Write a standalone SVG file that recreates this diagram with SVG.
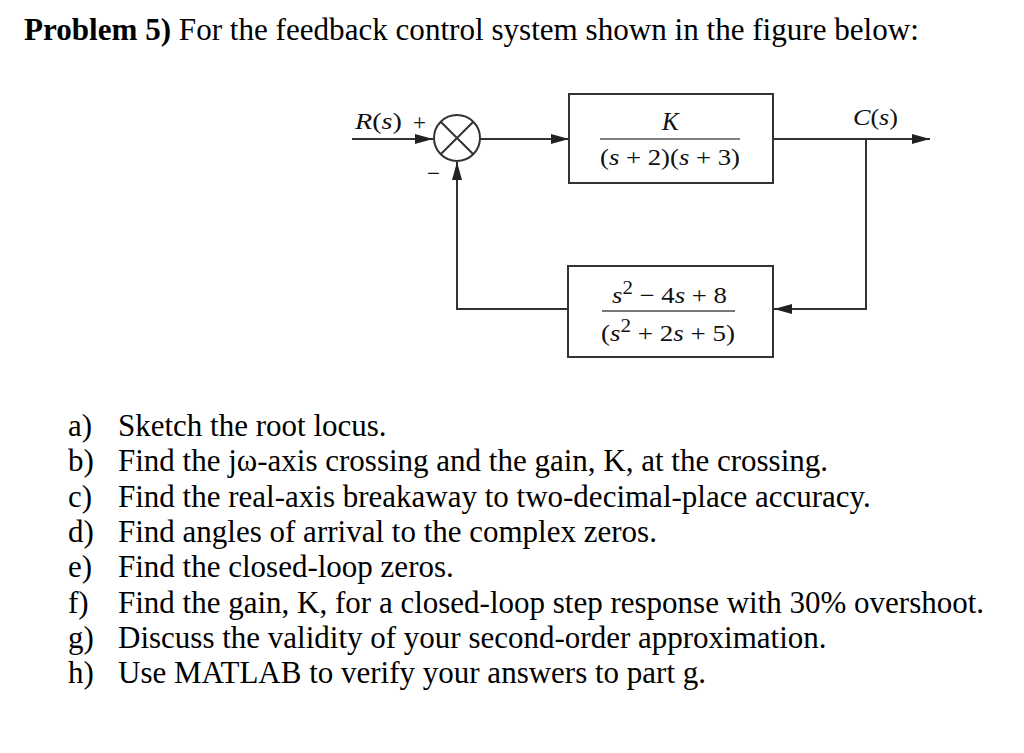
<svg xmlns="http://www.w3.org/2000/svg" width="1024" height="753" viewBox="0 0 1024 753">
<style>
.t{font-family:"Liberation Serif","Times New Roman",serif;fill:#000}
.q{font-size:31px}
.d{font-family:"Liberation Serif","Times New Roman",serif;fill:#111;font-size:23px}
.i{font-style:italic}
.big{font-size:25px}
.ln{stroke:#333;stroke-width:2;fill:none}
.box{stroke:#333;stroke-width:2;fill:#fff}
</style>
<defs>
<marker id="ah" viewBox="0 0 18 10" refX="18" refY="5" markerWidth="18" markerHeight="10" markerUnits="userSpaceOnUse" orient="auto">
<path d="M0,0 L18,5 L0,10 Z" fill="#222"/>
</marker>
</defs>
<rect width="1024" height="753" fill="#fff"/>
<text class="t" x="24" y="40" font-size="31.1"><tspan font-weight="bold">Problem 5)</tspan> For the feedback control system shown in the figure below:</text>

<g id="connectors">
<line class="ln" x1="352" y1="139" x2="433" y2="139" marker-end="url(#ah)"/>
<line class="ln" x1="480" y1="139" x2="569" y2="139" marker-end="url(#ah)"/>
<line class="ln" x1="773" y1="139" x2="930" y2="139" marker-end="url(#ah)"/>
<polyline class="ln" points="866,139 866,309 774,309" marker-end="url(#ah)"/>
<polyline class="ln" points="568,309 457,309 457,162" marker-end="url(#ah)"/>
</g>

<g id="sum">
<circle cx="457" cy="138" r="23" class="ln" stroke-width="1.6"/>
<line class="ln" stroke-width="1.6" x1="440.7" y1="121.7" x2="473.3" y2="154.3"/>
<line class="ln" stroke-width="1.6" x1="473.3" y1="121.7" x2="440.7" y2="154.3"/>
<text class="d" x="413" y="130">+</text>
<text class="d" x="427" y="181">−</text>
</g>

<g id="labels">
<text class="d" x="355" y="129" textLength="47" lengthAdjust="spacingAndGlyphs"><tspan class="i">R</tspan>(<tspan class="i">s</tspan>)</text>
<text class="d" x="853" y="125" textLength="45" lengthAdjust="spacingAndGlyphs"><tspan class="i">C</tspan>(<tspan class="i">s</tspan>)</text>
</g>

<g id="forward">
<rect class="box" x="569" y="94" width="204" height="89"/>
<text class="d i big" x="662" y="130">K</text>
<line x1="600" y1="139" x2="740" y2="139" stroke="#555" stroke-width="1.5"/>
<text class="d" x="600" y="165" textLength="140" lengthAdjust="spacingAndGlyphs">(<tspan class="i">s</tspan> + 2)(<tspan class="i">s</tspan> + 3)</text>
</g>

<g id="feedback">
<rect class="box" x="568" y="266" width="205" height="91"/>
<text class="d" x="612" y="303" textLength="115" lengthAdjust="spacingAndGlyphs"><tspan class="i">s</tspan><tspan dy="-9" font-size="18">2</tspan><tspan dy="9"> − 4</tspan><tspan class="i">s</tspan> + 8</text>
<line x1="602" y1="311" x2="735" y2="311" stroke="#777" stroke-width="2"/>
<text class="d" x="601" y="341" textLength="134" lengthAdjust="spacingAndGlyphs">(<tspan class="i">s</tspan><tspan dy="-9" font-size="18">2</tspan><tspan dy="9"> + 2</tspan><tspan class="i">s</tspan> + 5)</text>
</g>

<g id="questions" class="t q">
<text x="68" y="436">a)</text><text x="118" y="436">Sketch the root locus.</text>
<text x="68" y="471">b)</text><text x="118" y="471">Find the jω-axis crossing and the gain, K, at the crossing.</text>
<text x="68" y="507">c)</text><text x="118" y="507">Find the real-axis breakaway to two-decimal-place accuracy.</text>
<text x="68" y="542">d)</text><text x="118" y="542">Find angles of arrival to the complex zeros.</text>
<text x="68" y="577">e)</text><text x="118" y="577">Find the closed-loop zeros.</text>
<text x="68" y="613">f)</text><text x="118" y="613">Find the gain, K, for a closed-loop step response with 30% overshoot.</text>
<text x="68" y="648">g)</text><text x="118" y="648">Discuss the validity of your second-order approximation.</text>
<text x="68" y="683">h)</text><text x="118" y="683">Use MATLAB to verify your answers to part g.</text>
</g>
</svg>
